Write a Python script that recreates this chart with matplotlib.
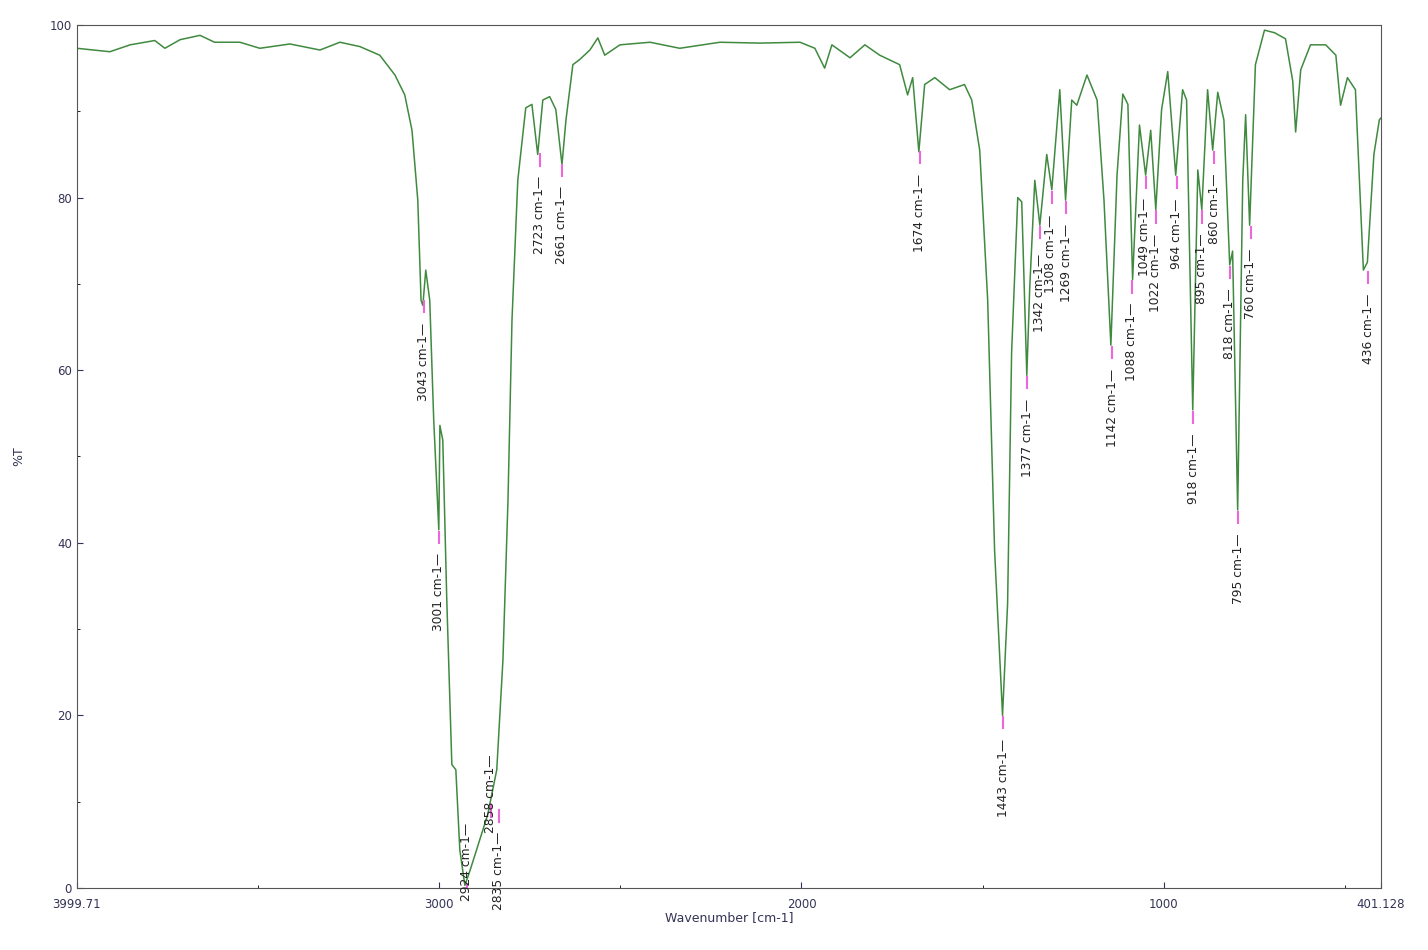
import matplotlib
matplotlib.use("Agg")
import matplotlib.pyplot as plt

wn = [3999.71,3909,3853,3785,3757,3715,3660,3620,3550,3495,3412,3329,3274,3219,3164,3122,3095,3075,3059,3050,3045,3037,3026,3015,3001,2998,2990,2979,2965,2954,2943,2929,2915,2888,2866,2852,2841,2824,2810,2799,2783,2761,2744,2728,2714,2695,2678,2661,2650,2631,2612,2584,2562,2543,2501,2418,2336,2225,2115,2004,1963,1936,1916,1866,1825,1784,1729,1707,1693,1676,1660,1632,1591,1550,1530,1508,1486,1467,1445,1431,1420,1403,1392,1378,1370,1356,1342,1323,1309,1287,1271,1254,1240,1212,1184,1165,1146,1129,1113,1099,1086,1067,1050,1036,1022,1006,989,967,948,937,920,906,895,879,865,851,834,818,810,796,782,774,763,747,722,694,664,644,636,622,595,553,525,512,493,471,449,438,420,405,401.128]
T  = [97.3,96.9,97.7,98.2,97.3,98.3,98.8,98.0,98.0,97.3,97.8,97.1,98.0,97.5,96.5,94.2,91.9,87.8,79.7,68.1,67.5,71.6,68.1,54.2,41.5,53.6,51.9,33.4,14.3,13.7,4.4,0.3,2.0,5.6,8.5,11.4,13.7,26.4,45.0,65.8,82.0,90.4,90.8,85.0,91.3,91.7,90.2,83.8,89.0,95.4,96.0,97.1,98.5,96.5,97.7,98.0,97.3,98.0,97.9,98.0,97.3,95.0,97.7,96.2,97.7,96.5,95.4,91.9,93.9,85.3,93.1,93.9,92.5,93.1,91.3,85.5,68.1,39.2,20.0,33.0,62.0,80.0,79.5,59.4,69.5,82.0,76.8,85.0,80.9,92.5,79.7,91.3,90.7,94.2,91.3,79.7,62.9,82.6,92.0,90.8,70.5,88.4,82.6,87.8,78.6,90.2,94.6,82.6,92.5,91.3,55.4,83.2,78.6,92.5,85.5,92.2,89.0,72.2,73.8,43.8,82.0,89.6,76.8,95.4,99.4,99.1,98.4,93.5,87.6,94.8,97.7,97.7,96.5,90.7,93.9,92.5,71.6,72.5,85.0,89.0,89.2]

peaks = [3043,3001,2924,2858,2835,2723,2661,1674,1443,1377,1342,1308,1269,1142,1088,1049,1022,964,918,895,860,818,795,760,436]
peak_T = [68.0,41.3,0.5,9.5,9.0,85.0,83.8,85.3,19.8,59.2,76.6,80.7,79.5,62.7,70.3,82.4,78.4,82.4,55.2,78.4,85.3,72.0,43.6,76.6,71.4]
label_x = [3043,3001,2924,2858,2835,2723,2661,1674,1443,1377,1342,1312,1269,1142,1088,1052,1022,964,918,895,860,818,795,760,436]
label_top = [66.5,39.8,8.5,16.5,7.5,83.5,82.3,83.8,18.3,57.7,74.5,79.0,78.0,61.2,68.8,81.0,76.8,80.9,53.7,76.9,83.8,70.5,42.1,75.1,69.9]

fig = plt.figure(figsize=(14.28, 9.5), dpi=100)
ax = fig.add_axes([0.0539, 0.0653, 0.913, 0.9084])
ax.plot(wn, T, color="#3f8a3f", lw=1.1)
tc = "#333355"
for p, pt, lx, lt in zip(peaks, peak_T, label_x, label_top):
    ax.plot([p, p], [pt, pt - 1.3], color="#ee66dd", lw=1.5)
    ax.text(lx, lt - 1.0, f"{p} cm-1—", rotation=90, ha="center", va="top",
            fontsize=8.8, color="#222222")
ax.set_xlim(3999.71, 401.128)
ax.set_ylim(0, 100)
ax.set_xticks([3999.71, 3000, 2000, 1000, 401.128])
ax.set_xticklabels(["3999.71", "3000", "2000", "1000", "401.128"])
ax.set_xticks([3500, 2500, 1500, 500], minor=True)
ax.set_yticks([0, 20, 40, 60, 80, 100])
ax.set_yticks([10, 30, 50, 70, 90], minor=True)
ax.tick_params(labelsize=8.5, colors=tc, direction="in", length=4)
ax.tick_params(axis="x", pad=7)
ax.tick_params(which="minor", direction="in", length=2)
for s in ax.spines.values():
    s.set_color("#555555")
ax.set_xlabel("Wavenumber [cm-1]", fontsize=9, color=tc, labelpad=0)
ax.set_ylabel("%T", fontsize=9, color=tc, labelpad=18)
fig.savefig("out.png", dpi=100, facecolor="white")
